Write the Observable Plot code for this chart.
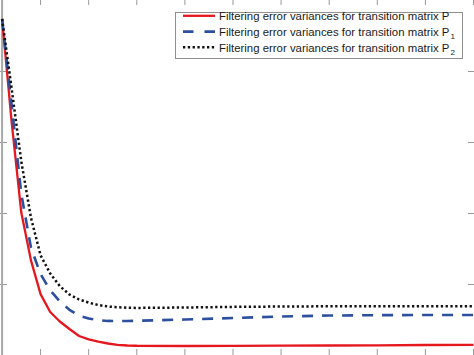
<!DOCTYPE html>
<html><head><meta charset="utf-8">
<script src="https://cdn.jsdelivr.net/npm/d3@7"></script>
<script src="https://cdn.jsdelivr.net/npm/@observablehq/plot@0.6"></script>
<style>html,body{margin:0;padding:0;background:#fff;overflow:hidden}</style>
</head><body><div id="chart"></div>
<script>
const iterations = [1,2,3,4,5,6,7,8,9,10,11,12,13,14,15,20,25,30,35,40,45,50];
const varP  = [4.74,3.28,2.01,1.34,0.865,0.613,0.479,0.373,0.275,0.228,0.194,0.169,0.151,0.141,0.137,0.134,0.135,0.138,0.141,0.144,0.148,0.151];
const varP1 = [4.74,3.52,2.27,1.52,1.145,0.918,0.761,0.644,0.562,0.521,0.497,0.487,0.485,0.486,0.489,0.507,0.528,0.549,0.563,0.568,0.570,0.570];
const varP2 = [4.74,3.75,2.73,1.94,1.41,1.155,0.977,0.859,0.789,0.745,0.711,0.690,0.679,0.673,0.670,0.676,0.685,0.690,0.693,0.694,0.694,0.694];
const seriesNames = ["P","P1","P2"];
const seriesLabels = ["Filtering error variances for transition matrix P","Filtering error variances for transition matrix P","Filtering error variances for transition matrix P"];
const seriesSubscripts = ["","1","2"];
const xDomain = [1,50];
const yDomain = [0,5];
const xTicks = [5,10,15,20,25,30,35,40,45,50];
const yTicks = [1,2,3,4];

const W = 474, H = 355;
const styles = {
  P:  {stroke:"#e5171f", strokeWidth:2.3, dash:null},
  P1: {stroke:"#2c4f9e", strokeWidth:2.6, dash:"11,9"},
  P2: {stroke:"#111111", strokeWidth:2.5, dash:"2.3,2.5"}
};
const values = {P: varP, P1: varP1, P2: varP2};
const rows = seriesNames.flatMap(s => iterations.map((k,i) => ({k, v: values[s][i], s})));

const tickColor = "#9a9a9a";
const marks = [
  Plot.tickX(xTicks, {x: d => d, insetTop: H - 6, stroke: tickColor, strokeWidth: 1}),
  Plot.tickX(xTicks, {x: d => d, insetBottom: H - 5, stroke: tickColor, strokeWidth: 1}),
  Plot.tickY(yTicks, {y: d => d, insetRight: W - 7, stroke: tickColor, strokeWidth: 1}),
  Plot.tickY(yTicks, {y: d => d, insetLeft: W - 6, stroke: tickColor, strokeWidth: 1}),
  Plot.ruleX([xDomain[0]], {x: d => d, stroke: "#a8a8a8", strokeWidth: 2})
];
for (const s of seriesNames) {
  const st = styles[s];
  marks.push(Plot.line(rows.filter(r => r.s === s), {
    x: "k", y: "v", stroke: st.stroke, strokeWidth: st.strokeWidth,
    strokeDasharray: st.dash, strokeLinecap: "butt", strokeLinejoin: "round"
  }));
}

const svg = Plot.plot({
  width: W, height: H,
  marginTop: 0, marginBottom: 0, marginLeft: 0, marginRight: 0,
  x: {domain: xDomain, range: [1.6, 473], axis: null},
  y: {domain: yDomain, range: [355, 0], axis: null},
  style: {background: "#fff", overflow: "hidden"},
  marks
});
document.getElementById("chart").appendChild(svg);

// legend
const lg = d3.select(svg).append("g")
  .attr("font-family", "'Liberation Sans', Arial, sans-serif")
  .attr("text-anchor", "start");
lg.append("rect").attr("x", 175.5).attr("y", 12.5).attr("width", 287).attr("height", 46)
  .attr("fill", "#fff").attr("stroke", "#8f8f8f").attr("stroke-width", 1);
const rowY = [15.8, 31.6, 47.3];
const legendDash = {P: null, P1: "10.5,11", P2: "2.3,2.5"};
seriesNames.forEach((s, i) => {
  const st = styles[s];
  lg.append("line").attr("x1", 183).attr("x2", 215).attr("y1", rowY[i]).attr("y2", rowY[i])
    .attr("stroke", st.stroke).attr("stroke-width", st.strokeWidth)
    .attr("stroke-dasharray", legendDash[s]);
  const t = lg.append("text").attr("x", 219).attr("y", rowY[i] + 4.2)
    .attr("text-anchor", "start")
    .attr("font-size", 11.4).attr("fill", "#1a1a1a").text(seriesLabels[i]);
  if (seriesSubscripts[i]) {
    t.append("tspan").attr("font-size", 8).attr("dx", 1).attr("dy", 3.5).text(seriesSubscripts[i]);
  }
});
</script>
</body></html>
